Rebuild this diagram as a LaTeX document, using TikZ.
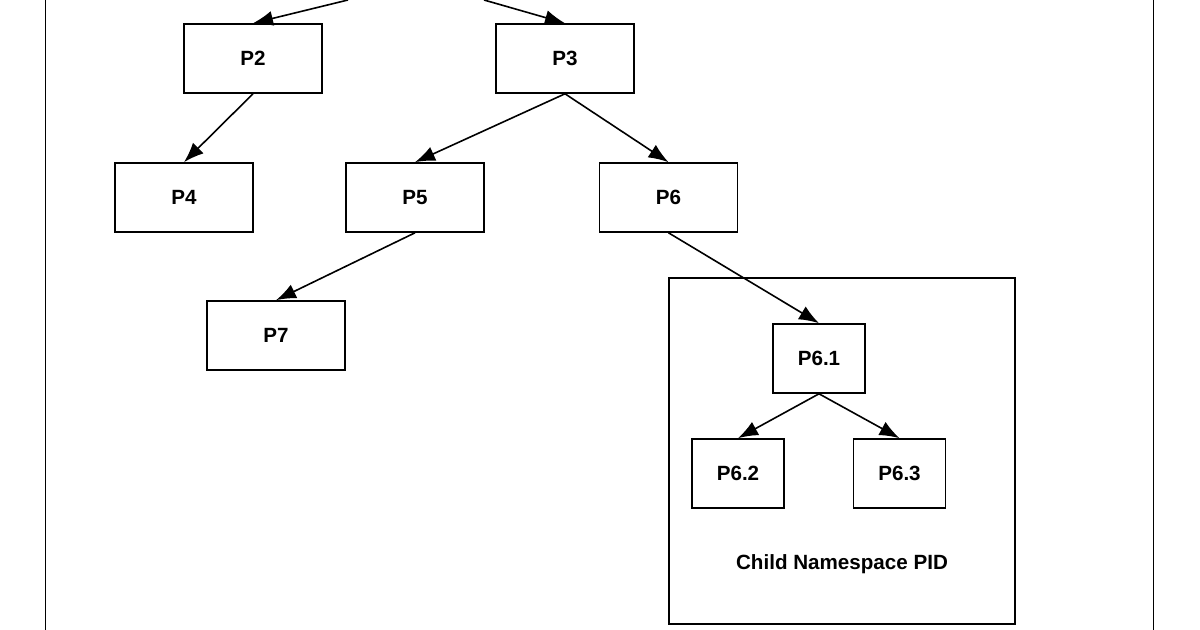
\documentclass[tikz,border=0pt]{standalone}
\usepackage{fontspec}
\setmainfont{Liberation Sans}
\usetikzlibrary{arrows.meta}
\begin{document}
\begin{tikzpicture}[x=0.5pt, y=-0.5pt, font=\fontsize{10.3}{12}\selectfont\bfseries,
  proc/.style={shape=rectangle, draw=black, line width=0.8pt, minimum width=69pt, minimum height=34.5pt, inner sep=0pt},
  subproc/.style={proc, minimum width=46pt},
  link/.style={-{Latex[length=10pt, width=7.5pt]}, line width=0.8pt, black}]
\useasboundingbox (0,0) rectangle (1200,630);
\draw[line width=0.5pt] (45.5,0) -- (45.5,630);
\draw[line width=0.5pt] (1153.5,0) -- (1153.5,630);
\draw[line width=0.6pt] (669,278) rectangle (1015,624);
\node (ns) at (842,564) {Child Namespace PID};
\coordinate (in2) at (348,0);
\coordinate (in3) at (484,0);
\node[proc] (P2) at (253,58.5) {P2};
\node[proc] (P3) at (565,58.5) {P3};
\node[proc] (P4) at (184,197.5) {P4};
\node[proc] (P5) at (415,197.5) {P5};
\node[proc] (P6) at (668.5,197.5) {P6};
\node[proc] (P7) at (276,335.5) {P7};
\node[subproc] (P61) at (819,358.5) {P6.1};
\node[subproc] (P62) at (738,473.5) {P6.2};
\node[subproc] (P63) at (899.5,473.5) {P6.3};
\path [link] (in2) edge (P2.north);
\path [link] (in3) edge (P3.north);
\path [link] (P2.south) edge (P4.north);
\path [link] (P3.south) edge (P5.north);
\path [link] (P3.south) edge (P6.north);
\path [link] (P5.south) edge (P7.north);
\path [link] (P6.south) edge (P61.north);
\path [link] (P61.south) edge (P62.north);
\path [link] (P61.south) edge (P63.north);
\end{tikzpicture}
\end{document}
